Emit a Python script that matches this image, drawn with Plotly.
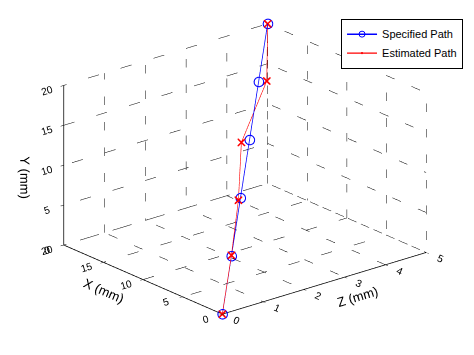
import plotly.graph_objects as go

# Specified path (X, Y, Z in mm)
spec_X = [0, 4, 8, 12, 16, 20]
spec_Y = [0, 4, 8, 12, 16, 20]
spec_Z = [0, 1, 2, 3, 4, 5]

# Estimated path (X, Y, Z in mm)
est_X = [0, 4, 8, 12, 16, 20]
est_Y = [0, 4.1, 7.8, 12.0, 15.8, 20]
est_Z = [0, 1.0, 1.95, 2.8, 4.2, 5]

x_ticks = [0, 5, 10, 15, 20]
y_ticks = [0, 5, 10, 15, 20]
z_ticks = [0, 1, 2, 3, 4, 5]

FONT = "Liberation Sans, Arial, sans-serif"
fig = go.Figure()

# plotly x = Z (mm), plotly y = X (mm), plotly z = Y (mm)
xmax, ymax, zmax = z_ticks[-1], x_ticks[-1], y_ticks[-1]

gx, gy, gz = [], [], []
def seg(a, b):
    gx.extend([a[0], b[0], None]); gy.extend([a[1], b[1], None]); gz.extend([a[2], b[2], None])

# floor (Y=0)
for t in z_ticks:
    seg((t, 0, 0), (t, ymax, 0))
for t in x_ticks:
    seg((0, t, 0), (xmax, t, 0))
# back wall X=20
for t in z_ticks:
    seg((t, ymax, 0), (t, ymax, zmax))
for t in y_ticks:
    seg((0, ymax, t), (xmax, ymax, t))
# back wall Z=5
for t in x_ticks:
    seg((xmax, t, 0), (xmax, t, zmax))
for t in y_ticks:
    seg((xmax, 0, t), (xmax, ymax, t))

fig.add_trace(go.Scatter3d(x=gx, y=gy, z=gz, mode="lines",
                           line=dict(color="black", width=1, dash="dot"),
                           showlegend=False, hoverinfo="skip"))

ax, ay, az = [], [], []
for a, b in [((0, 0, 0), (0, ymax, 0)), ((0, 0, 0), (xmax, 0, 0)), ((0, ymax, 0), (0, ymax, zmax))]:
    ax.extend([a[0], b[0], None]); ay.extend([a[1], b[1], None]); az.extend([a[2], b[2], None])
fig.add_trace(go.Scatter3d(x=ax, y=ay, z=az, mode="lines",
                           line=dict(color="black", width=1.5),
                           showlegend=False, hoverinfo="skip"))

fig.add_trace(go.Scatter3d(x=spec_Z, y=spec_X, z=spec_Y, mode="lines+markers",
                           name="Specified Path",
                           line=dict(color="#0000ff", width=1.5),
                           marker=dict(symbol="circle-open", size=6, color="#0000ff")))
fig.add_trace(go.Scatter3d(x=est_Z, y=est_X, z=est_Y, mode="lines+markers",
                           name="Estimated Path",
                           line=dict(color="#ff0000", width=1.2),
                           marker=dict(symbol="x", size=1.8, color="#ff0000")))

axis_common = dict(showgrid=False, showbackground=False, zeroline=False,
                   showline=False, showspikes=False, ticks="outside", ticklen=4,
                   tickcolor="black", tickfont=dict(family=FONT, size=11, color="black"))

ex, ey, ez = -0.5965, -0.7159, 0.3630
D = 2.2
cz = -0.10
K = 0.985
fig.update_layout(
    width=474, height=355,
    margin=dict(l=0, r=0, t=0, b=0),
    paper_bgcolor="white",
    font=dict(family=FONT, size=11, color="black"),
    scene=dict(
        domain=dict(x=[0.0, 1.0], y=[0.0, 1.0]),
        xaxis=dict(title=dict(text="Z (mm)"), range=[0, xmax], tickvals=z_ticks, **axis_common),
        yaxis=dict(title=dict(text="X (mm)"), range=[0, ymax], tickvals=x_ticks, **axis_common),
        zaxis=dict(title=dict(text="Y (mm)"), range=[0, zmax], tickvals=y_ticks, **axis_common),
        aspectmode="manual",
        aspectratio=dict(x=1.518 * K, y=1.417 * K, z=0.980 * K),
        camera=dict(projection=dict(type="orthographic"),
                    eye=dict(x=ex * D, y=ey * D, z=ez * D + cz),
                    center=dict(x=0, y=0, z=cz),
                    up=dict(x=0, y=0, z=1)),
    ),
    legend=dict(x=0.96, y=0.97, xanchor="right", yanchor="top",
                bordercolor="black", borderwidth=1, bgcolor="white",
                font=dict(family=FONT, size=11)),
)

fig.write_html("out.html")
